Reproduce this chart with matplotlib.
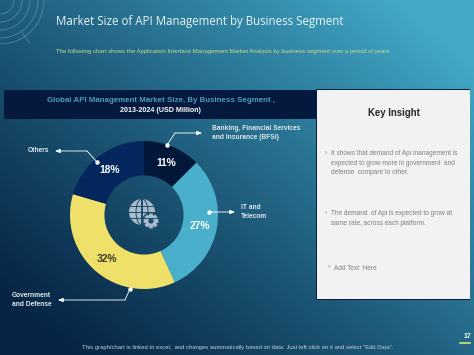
import numpy as np
import matplotlib
matplotlib.use('Agg')
import matplotlib.pyplot as plt
from matplotlib.patches import Rectangle, Circle, Ellipse, Polygon, Arc

# Chart data
segments = ['Banking, Financial Services\nand Insurance (BFSI)', 'IT and\nTelecom', 'Government\nand Defense', 'Others']
shares = [11, 27, 32, 18]
colors = ['#03173a', '#4aafca', '#efe06a', '#03265c']
pct_colors = ['white', 'white', '#3a3a20', 'white']

title = 'Market Size of API Management by Business Segment'
subtitle = 'The following chart shows the Application Interface Management Market Analysis by business segment over a period of years'
band_title = 'Global API Management Market Size, By Business Segment ,'
band_years = '2013-2024 (USD Million)'
insights = ['It shows that demand of Api management is\nexpected to grow more in government  and\ndefense  compare to other.',
            'The demand  of Api is expected to grow at\nsame rate, across each platform.',
            'Add Text  Here']
footer = 'This graph/chart is linked to excel,  and changes automatically based on data. Just left click on it and select "Edit Data".'

W, H = 474, 355
plt.rcParams['font.family'] = 'Liberation Sans'
fig = plt.figure(figsize=(W / 100, H / 100), dpi=100)

# Full figure axes in pixel coordinates, y going down
bg = fig.add_axes([0, 0, 1, 1])
bg.set_xlim(0, W)
bg.set_ylim(H, 0)
bg.set_axis_off()

# Background gradient, dark bottom left to light top right
yy, xx = np.mgrid[0:1:200j, 0:1:260j]
t = np.clip(xx * 0.62 + (1 - yy) * 0.55 - 0.08, 0, 1)[..., None] ** 1.12
dark = np.array([6, 36, 68]) / 255
light = np.array([66, 170, 200]) / 255
bg.imshow(dark + (light - dark) * t, extent=[0, W, H, 0], aspect='auto', zorder=0)

# Faint rings in the top left corner
for r in [14, 22, 30, 38, 44]:
    bg.add_patch(Arc((0, 0), 2 * r, 2 * r, theta1=0, theta2=90, color='#7fb4c8', lw=0.5, alpha=0.6, zorder=1))
bg.plot([22, 30], [32, 44], color='#7fb4c8', lw=0.5, alpha=0.5, zorder=1)

bg.text(56, 22, title, color='#eaf6f8', fontsize=8.3, family='Open Sans', va='center', zorder=3)
bg.text(56, 51, subtitle, color='#c9d98a', fontsize=4.3, va='center', zorder=3)

# Header band and insight panel
bg.add_patch(Rectangle((4, 90), 313, 29, color='#04193d', lw=0, zorder=2))
bg.add_patch(Rectangle((316, 89), 154, 211, color='#06213f', lw=0, zorder=2))
bg.add_patch(Rectangle((317, 90), 153, 209, color='#f2f2f2', lw=0, zorder=2))
bg.text(161, 100.5, band_title, color='#4f9dbb', fontsize=5.65, fontweight='bold', ha='center', va='center', zorder=3)
bg.text(160, 111, band_years, color='white', fontsize=5.15, fontweight='bold', ha='center', va='center', zorder=3)
bg.text(393.5, 112.5, 'Key Insight', color='#262626', fontsize=6.9, fontweight='bold', ha='center', va='center', zorder=3)

# Insight bullets
for txt, x, y in zip(insights, [331, 331, 334], [150, 210, 264.5]):
    bg.text(x - 6, y, '›', color='#808080', fontsize=4.7, va='top', zorder=3)
    bg.text(x, y, txt, color='#7f7f7f', fontsize=4.7, va='top', linespacing=1.55, zorder=3)

bg.text(82, 347, footer, color='#c3d0d8', fontsize=4.2, va='center', zorder=3)
bg.text(467, 337, '17', color='white', fontsize=5, fontweight='bold', ha='center', va='center', zorder=3)
bg.plot([460, 470], [343, 343], color='#d9e07a', lw=1.2, zorder=3)

# Donut, sized so its centre falls on (144, 215) px with radius 74 px
cx, cy, rad = 144, 215, 74
pie_ax = fig.add_axes([(cx - rad) / W, 1 - (cy + rad) / H, 2 * rad / W, 2 * rad / H], zorder=2)
pie_ax.pie(shares, colors=colors, startangle=90, counterclock=False, radius=1,
           wedgeprops=dict(width=0.465, linewidth=0))
pie_ax.set_xlim(-1, 1)
pie_ax.set_ylim(-1, 1)
pie_ax.patch.set_alpha(0)

# Overlay for labels, above the donut
top = fig.add_axes([0, 0, 1, 1], zorder=3)
top.set_xlim(0, W)
top.set_ylim(H, 0)
top.set_axis_off()
top.patch.set_alpha(0)

pct_pos = [(166, 163), (200, 226), (107, 259), (110, 170)]
for v, c, (x, y) in zip(shares, pct_colors, pct_pos):
    top.text(x, y, f'{v}%', color=c, fontsize=7.4, fontweight='bold', ha='center', va='center')

# Callout lines: dot, elbow, arrow tip
callouts = [[(167, 145), (175, 133), (202, 133)],
            [(209, 212), (209, 212), (235, 212)],
            [(130, 289), (125, 300), (58, 300)],
            [(97, 162), (87, 151), (55, 151)]]
for pts in callouts:
    px, py = zip(*pts)
    top.plot(px[:2], py[:2], color='white', lw=0.6)
    top.plot(px[0], py[0], 'o', color='white', ms=3.2, mew=0)
    top.annotate('', xy=pts[2], xytext=pts[1],
                 arrowprops=dict(arrowstyle='-|>,head_width=0.12,head_length=0.3', color='white', lw=0.6, shrinkA=0, shrinkB=0))

label_pos = [(212, 133), (241, 212), (12, 300), (28, 151)]
for seg, (x, y) in zip(segments, label_pos):
    top.text(x, y, seg, color='#dfe8ec', fontsize=4.75, fontweight='bold', ha='left', va='center', linespacing=1.25)

# Globe and gear icon in the hole
icon = '#a9bccb'
hole = '#1a4d6c'
gx, gy, gr = 142, 212, 13
top.add_patch(Circle((gx, gy), gr, color=icon, lw=0))
for dy in [-6, 0, 6]:
    top.plot([gx - gr, gx + gr], [gy + dy, gy + dy], color=hole, lw=0.7)
for w in [0, 12]:
    top.add_patch(Ellipse((gx, gy), w + 0.01, 2 * gr, fill=False, ec=hole, lw=0.7))
gear_x, gear_y = 151, 221
top.add_patch(Circle((gear_x, gear_y), 9, color=hole, lw=0))
angles = np.deg2rad(np.arange(0, 360, 45))
for a in angles:
    d = np.deg2rad(13)
    top.add_patch(Polygon([(gear_x + 5 * np.cos(a - 2 * d), gear_y + 5 * np.sin(a - 2 * d)),
                           (gear_x + 7.6 * np.cos(a - d), gear_y + 7.6 * np.sin(a - d)),
                           (gear_x + 7.6 * np.cos(a + d), gear_y + 7.6 * np.sin(a + d)),
                           (gear_x + 5 * np.cos(a + 2 * d), gear_y + 5 * np.sin(a + 2 * d))], color=icon, lw=0))
top.add_patch(Circle((gear_x, gear_y), 5.6, color=icon, lw=0))
top.add_patch(Circle((gear_x, gear_y), 2.6, color=hole, lw=0))

fig.savefig('out.png', dpi=100)
